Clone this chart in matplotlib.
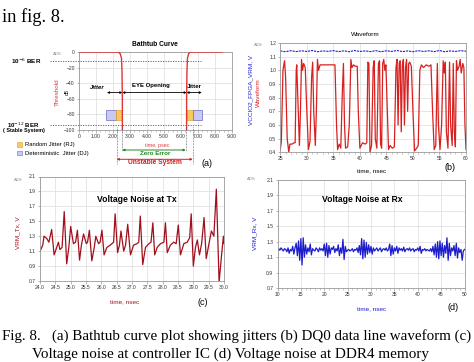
import matplotlib
matplotlib.use("Agg")
import matplotlib.pyplot as plt
import numpy as np
from matplotlib.patches import Rectangle

W, H = 474, 362
plt.rcParams['font.family'] = ['Liberation Sans', 'DejaVu Sans']
fig = plt.figure(figsize=(W / 100, H / 100), dpi=100)

# ---------------- data ----------------
# (a) bathtub
bath_left_x = [0, 2.3, 2.42, 2.5, 2.53, 2.55, 2.55]
bath_left_y = [0, 0, -2, -8, -25, -60, -100]
bath_right_x = [6.33, 6.33, 6.35, 6.38, 6.45, 6.55, 8.4]
bath_right_y = [-100, -60, -25, -8, -2, 0, 0]
ber_levels = [-11, -94]
rj_left = (2.16, 2.55)
dj_left = (1.59, 2.16)
rj_right = (6.33, 6.69)
dj_right = (6.69, 7.22)
box_y = (-87, -74)

# (b) waveform
wave_t = [25.0, 25.2, 25.5, 25.8, 26.0, 26.3, 26.6, 26.8, 27.2, 27.6, 27.8, 28.0, 28.1, 28.3,
          28.6, 28.8, 29.0, 29.2, 29.4, 29.7, 30.0, 30.3, 30.6, 30.9, 31.1, 31.3, 31.6, 31.8,
          32.0, 32.2, 32.5, 33.0, 34.0, 35.0, 35.3, 35.6, 35.8, 36.1, 36.4, 36.7, 36.9, 37.1,
          37.3, 37.7, 38.0, 38.3, 38.5, 38.8, 39.1, 39.4, 39.5, 39.7, 40.0, 40.5, 41.0, 41.3,
          41.5, 41.7, 41.9, 42.2, 42.5, 42.7, 42.9, 43.2, 43.5, 43.7, 43.9, 44.1, 44.3, 44.5,
          44.7, 44.9, 45.1, 45.4, 45.7, 46.1, 46.5, 46.8, 47.0, 47.2, 47.4, 47.6, 47.8, 48.0,
          48.2, 48.4, 48.6, 48.8, 49.0, 49.2, 49.4, 49.7, 50.0, 50.3, 50.7, 51.0, 51.3, 51.6,
          52.0, 52.5, 53.0, 53.4, 53.7, 54.0, 54.3, 54.6, 54.8, 55.1, 55.4, 55.7, 55.9, 56.1,
          56.3, 56.6, 56.9, 57.1, 57.4, 57.6, 57.8, 58.0, 58.2, 58.4, 58.7, 58.9, 59.1, 59.4,
          59.6, 59.8, 60.0]
wave_v = [0.42, 0.48, 1.00, 1.07, 0.95, 0.50, 0.40, 0.46, 0.46, 0.47, 0.47, 1.00, 1.04, 0.80,
          0.45, 0.70, 1.08, 1.00, 1.05, 1.02, 0.70, 0.42, 0.48, 0.95, 1.06, 0.70, 0.45, 0.70,
          1.08, 1.00, 1.04, 1.04, 1.04, 1.04, 1.04, 0.60, 0.42, 0.46, 0.43, 0.85, 1.05, 0.60,
          0.43, 0.44, 0.60, 1.08, 1.02, 1.04, 1.03, 1.03, 1.03, 0.70, 0.43, 0.47, 0.46, 0.47,
          1.06, 1.05, 0.40, 0.45, 1.02, 1.07, 0.50, 0.43, 1.05, 1.07, 0.46, 0.43, 1.05, 1.08,
          1.00, 1.04, 0.80, 0.42, 0.45, 0.43, 0.44, 1.02, 1.08, 0.60, 1.05, 1.07, 0.55, 1.04,
          1.08, 0.60, 1.02, 1.08, 0.70, 1.05, 1.06, 1.03, 0.70, 0.41, 0.43, 0.45, 1.00, 1.04,
          1.02, 1.04, 1.03, 1.04, 0.70, 0.42, 0.45, 1.05, 0.60, 0.42, 0.60, 1.07, 0.98, 1.06,
          0.55, 0.43, 1.06, 0.60, 0.45, 1.05, 0.55, 0.44, 1.07, 1.00, 1.03, 1.08, 0.98, 1.05,
          1.02, 0.60, 0.42]
vref_t = [25, 26, 27, 28, 29, 30, 31, 32, 33, 34, 35, 36, 37, 38, 39, 40, 41, 42,
          43, 44, 45, 46, 47, 48, 49, 50, 51, 52, 53, 54, 55, 56, 57, 58, 59, 60]
vref_v = [1.142, 1.136, 1.144, 1.137, 1.143, 1.138, 1.145, 1.136, 1.142, 1.139, 1.144, 1.137,
          1.143, 1.136, 1.145, 1.138, 1.142, 1.137, 1.144, 1.136, 1.143, 1.138, 1.145, 1.137,
          1.142, 1.136, 1.144, 1.138, 1.143, 1.137, 1.145, 1.136, 1.142, 1.138, 1.144, 1.140]

# (c) Tx noise
tx_t = [24.00, 24.09, 24.13, 24.22, 24.29, 24.38, 24.46, 24.52, 24.60, 24.65, 24.72, 24.79,
        24.87, 24.94, 25.00, 25.09, 25.16, 25.22, 25.29, 25.35, 25.42, 25.51, 25.55, 25.61,
        25.69, 25.77, 25.82, 25.91, 25.96, 26.02, 26.09, 26.18, 26.29, 26.40, 26.45, 26.53,
        26.59, 26.64, 26.73, 26.79, 26.86, 26.95, 27.05, 27.16, 27.22, 27.27, 27.35, 27.44,
        27.55, 27.62, 27.68, 27.74, 27.82, 27.93, 28.04, 28.09, 28.15, 28.25, 28.36, 28.44,
        28.51, 28.58, 28.69, 28.80, 28.88, 28.93, 29.00, 29.07, 29.13, 29.20, 29.27, 29.35,
        29.42, 29.51, 29.59, 29.67, 29.75, 29.84, 29.91, 29.98, 30.00]
tx_v = [1.10, 1.18, 1.30, 1.27, 1.22, 1.39, 1.05, 1.12, 1.22, 1.12, 1.15, 1.63,
        0.93, 1.15, 1.43, 1.20, 1.22, 1.38, 0.98, 1.18, 1.33, 1.20, 1.22, 1.38,
        0.97, 1.15, 1.30, 1.20, 1.22, 1.38, 1.05, 1.15, 1.18, 1.22, 1.60, 1.08,
        1.18, 1.37, 1.10, 1.18, 1.46, 1.05, 1.18, 1.20, 1.22, 1.57, 0.92, 1.15,
        1.20, 1.22, 1.48, 1.05, 1.15, 1.20, 1.22, 1.48, 1.08, 1.18, 1.22, 1.20,
        1.45, 1.05, 1.20, 1.22, 1.28, 1.60, 0.90, 1.15, 1.25, 1.05, 1.20, 1.55,
        1.00, 1.20, 1.37, 1.30, 1.93, 0.68, 1.00, 1.30, 1.20]

# (d) Rx noise, sampled every 0.25 ns from 10 to 50 ns
rx_start, rx_step = 10.0, 0.25
rx_v = [1.20, 1.21, 1.19, 1.22, 1.20, 1.18, 1.21, 1.20,
        1.17, 1.22, 1.15, 1.20, 1.18, 1.24, 1.14, 1.22,
        1.28, 1.12, 1.31, 1.06, 1.34, 1.00, 1.35, 1.10,
        1.26, 1.14, 1.22, 1.17, 1.27, 1.13, 1.21, 1.19,
        1.18, 1.22, 1.20, 1.17, 1.22, 1.19, 1.21, 1.18,
        1.27, 1.12, 1.28, 1.10, 1.25, 1.14, 1.22, 1.20,
        1.24, 1.16, 1.21, 1.18, 1.26, 1.12, 1.22, 1.15,
        1.33, 1.07, 1.24, 1.17, 1.19, 1.20, 1.18, 1.19,
        1.21, 1.17, 1.20, 1.19, 1.22, 1.16, 1.25, 1.13,
        1.34, 1.08, 1.32, 1.10, 1.29, 1.14, 1.26, 1.16,
        1.24, 1.14, 1.22, 1.18, 1.20, 1.22, 1.18, 1.20,
        1.22, 1.17, 1.20, 1.21, 1.19, 1.22, 1.18, 1.20,
        1.27, 1.12, 1.25, 1.14, 1.22, 1.18, 1.24, 1.15,
        1.22, 1.19, 1.21, 1.18, 1.23, 1.17, 1.20, 1.21,
        1.19, 1.22, 1.18, 1.20, 1.21, 1.17, 1.20, 1.19,
        1.22, 1.18, 1.24, 1.15, 1.20, 1.19, 1.21, 1.18,
        1.20, 1.19, 1.18, 1.21, 1.17, 1.24, 1.13, 1.27,
        1.10, 1.30, 1.08, 1.31, 1.12, 1.28, 1.10, 1.25,
        1.15, 1.35, 1.06, 1.28, 1.12, 1.22, 1.18, 1.25,
        1.12, 1.28, 1.09, 1.22, 1.16, 1.20, 1.06, 1.18,
        1.20]
rx_t = rx_start + rx_step * np.arange(len(rx_v))

# ---------------- helpers ----------------
def axp(l, t, r, b):
    return fig.add_axes([l / W, 1 - b / H, (r - l) / W, (b - t) / H])

def style(ax):
    for s in ax.spines.values():
        s.set_color('#9a9a9a')
        s.set_linewidth(0.6)
    ax.grid(True, color='#dcdcdc', lw=0.5)
    ax.set_axisbelow(True)
    ax.tick_params(labelsize=3.6, colors='#9a9a9a', labelcolor='#333333',
                   length=1.8, width=0.5, pad=1.2)
    ax.tick_params(which='minor', length=1.2, width=0.4, colors='#9a9a9a')

GRAY = '#8a8a8a'

# ---------------- (a) bathtub ----------------
axa = axp(79, 52, 232, 130)
style(axa)
axa.plot(bath_left_x, bath_left_y, color='#e03535', lw=1.0, zorder=4)
axa.plot(bath_right_x, bath_right_y, color='#e03535', lw=1.0, zorder=4)
for lv in ber_levels:
    axa.plot([-1.7, 7.2], [lv, lv], color='#555555', lw=0.6, ls=(0, (1.5, 1.5)), clip_on=False)
for (x0, x1), fc, ec in [(dj_left, '#c9c9f2', '#6a6ac8'), (rj_left, '#f9c85e', '#e0a030'),
                         (rj_right, '#f9c85e', '#e0a030'), (dj_right, '#c9c9f2', '#6a6ac8')]:
    axa.add_patch(Rectangle((x0, box_y[0]), x1 - x0, box_y[1] - box_y[0], fc=fc, ec=ec, lw=0.5, zorder=3))
arr = dict(arrowstyle='<|-|>', color='black', lw=0.6, mutation_scale=3, shrinkA=0, shrinkB=0)
axa.annotate('', xy=(1.65, -52), xytext=(rj_left[1], -52), arrowprops=arr)
axa.annotate('', xy=(rj_left[1], -52), xytext=(rj_right[0], -52), arrowprops=arr)
axa.annotate('', xy=(rj_right[0], -52), xytext=(dj_right[1], -52), arrowprops=arr)
axa.text(1.06, -46, 'Jitter', fontsize=4.3, fontweight='bold', fontstyle='italic', ha='center', va='center')
axa.text(4.2, -43, 'EYE Opening', fontsize=4.3, fontweight='bold', ha='center', va='center')
axa.text(6.8, -44, 'Jitter', fontsize=4.3, fontweight='bold', ha='center', va='center')
axa.set_xlim(0, 9)
axa.set_ylim(-100, 0)
axa.set_xticks(range(0, 10))
axa.set_xticklabels(['0'] + ['%.2f' % v for v in range(1, 10)])
axa.set_yticks([0, -20, -40, -60, -80, -100])
axa.set_xticks(np.arange(0, 9.01, 0.25), minor=True)

# ---------------- (b) waveform ----------------
axb = axp(280.3, 43, 466, 152.3)
style(axb)
axb.plot(wave_t, wave_v, color='#d82020', lw=0.9)
axb.plot(vref_t, vref_v, color='#2222c8', lw=0.8, ls=(0, (2, 0.8)))
axb.set_xlim(25, 60)
axb.set_ylim(0.4, 1.2)
axb.set_xticks(range(25, 61, 5))
axb.set_yticks(np.round(np.arange(0.4, 1.21, 0.1), 1))
axb.yaxis.set_major_formatter(matplotlib.ticker.FormatStrFormatter('%.1f'))
axb.set_xticks(np.arange(25, 60.1, 1), minor=True)

# ---------------- (c) Tx ----------------
axc = axp(40, 176.5, 224, 281)
style(axc)
axc.plot(tx_t, tx_v, color='#a0101c', lw=0.9)
axc.set_xlim(24.0, 30.0)
axc.set_ylim(0.7, 2.1)
axc.set_xticks(np.arange(24.0, 30.01, 0.5))
axc.xaxis.set_major_formatter(matplotlib.ticker.FormatStrFormatter('%.1f'))
axc.set_yticks(np.round(np.arange(0.7, 2.11, 0.2), 1))
axc.yaxis.set_major_formatter(matplotlib.ticker.FormatStrFormatter('%.1f'))

# ---------------- (d) Rx ----------------
axd = axp(277.5, 179.5, 464.5, 288.3)
style(axd)
axd.plot(rx_t, rx_v, color='#1c1ccc', lw=0.9)
axd.set_xlim(10, 50)
axd.set_ylim(0.7, 2.1)
axd.set_xticks(range(10, 51, 5))
axd.set_xticks(range(10, 51, 1), minor=True)
axd.set_yticks(np.round(np.arange(0.7, 2.11, 0.2), 1))
axd.yaxis.set_major_formatter(matplotlib.ticker.FormatStrFormatter('%.1f'))

# ---------------- overlay for text / annotations ----------------
ov = fig.add_axes([0, 0, 1, 1], zorder=10)
ov.set_xlim(0, W)
ov.set_ylim(H, 0)
ov.axis('off')
ov.patch.set_alpha(0)

def T(x, y, s, **kw):
    kw.setdefault('ha', 'center')
    kw.setdefault('va', 'center')
    ov.text(x, y, s, **kw)

serif = ['Liberation Serif', 'DejaVu Serif']
T(2, 21.5, 'in fig. 8.', fontsize=13.2, family=serif, ha='left', va='baseline')
T(2, 340, 'Fig. 8.   (a) Bathtub curve plot showing jitters (b) DQ0 data line waveform (c)',
  fontsize=10.8, family=serif, ha='left', va='baseline')
T(231, 357.5, 'Voltage noise at controller IC (d) Voltage noise at DDR4 memory',
  fontsize=10.9, family=serif, va='baseline')

# (a) texts
T(155, 44.5, 'Bathtub Curve', fontsize=4.8, fontweight='bold')
T(57, 54, 'ADS', fontsize=3, color=GRAY)
T(26, 61.7, '10$^{-6}$ BER', fontsize=4.5, fontweight='bold')
T(23, 125, '10$^{-12}$ BER', fontsize=4.4, fontweight='bold')
T(23.5, 130.8, '( Stable System)', fontsize=3.9, fontweight='bold')
T(57, 92, 'Threshold', fontsize=4.5, color='#e03535', rotation=90)
T(67, 92, 'dB', fontsize=3.5, rotation=90)
T(157, 145, 'time, psec', fontsize=3.8, color='#e03535')
dot = dict(color='#444444', lw=0.5, ls=(0, (1, 1.2)))
ov.plot([116.7, 116.7], [127, 164], **dot)
ov.plot([122.3, 122.3], [127, 151], **dot)
ov.plot([185.7, 185.7], [127, 151], **dot)
ov.plot([192.7, 192.7], [127, 164], **dot)
ov.annotate('', xy=(122.3, 150), xytext=(185.7, 150),
            arrowprops=dict(arrowstyle='<|-|>', color='#1f8a1f', lw=0.7, mutation_scale=3, shrinkA=0, shrinkB=0))
T(155, 153.5, 'Zero Error', fontsize=4.5, color='#1f8a1f', fontweight='bold')
ov.annotate('', xy=(116.7, 159.3), xytext=(192.7, 159.3),
            arrowprops=dict(arrowstyle='<|-|>', color='#d02020', lw=0.7, mutation_scale=3, shrinkA=0, shrinkB=0))
T(155, 163, 'Unstable System', fontsize=4.8, color='#d02020', fontweight='bold')
ov.add_patch(Rectangle((17, 142), 5.5, 4.5, fc='#f9c85e', ec='#e0a030', lw=0.4))
ov.add_patch(Rectangle((17, 150.5), 5.5, 4.5, fc='#c9c9f2', ec='#6a6ac8', lw=0.4))
T(25, 144.5, 'Random Jitter (RJ)', fontsize=4.2, ha='left')
T(25, 153, 'Deterministic  Jitter (DJ)', fontsize=4.2, ha='left')
T(207, 163, '(a)', fontsize=6.5)

# (b) texts
T(365, 34.5, 'Waveform', fontsize=4.6)
T(258.7, 45, 'ADS', fontsize=3, color=GRAY)
T(251, 90, 'VCCIO2_FPGA_VRM, V', fontsize=4.6, color='#2222c8', rotation=90)
T(258.5, 93, 'Waveform', fontsize=4.6, color='#d82020', rotation=90)
T(372, 171, 'time, nsec', fontsize=4.6)
T(450, 167, '(b)', fontsize=6.5)

# (c) texts
T(137, 199, 'Voltage Noise at Tx', fontsize=6.2, fontweight='bold')
T(18, 180, 'ADS', fontsize=3, color=GRAY)
T(18, 233, 'VRM_Tx, V', fontsize=4.6, color='#a0101c', rotation=90)
T(125, 302, 'time, nsec', fontsize=4.6, color='#a0101c')
T(203, 302.7, '(c)', fontsize=6.5)

# (d) texts
T(362, 199, 'Voltage Noise at Rx', fontsize=6.2, fontweight='bold')
T(251, 179.5, 'ADS', fontsize=3, color=GRAY)
T(255, 233, 'VRM_Rx, V', fontsize=4.6, color='#1c1ccc', rotation=90)
T(372, 309, 'time, nsec', fontsize=4.6, color='#1c1ccc')
T(453, 308, '(d)', fontsize=6.5)

fig.savefig('out.png', dpi=100)
